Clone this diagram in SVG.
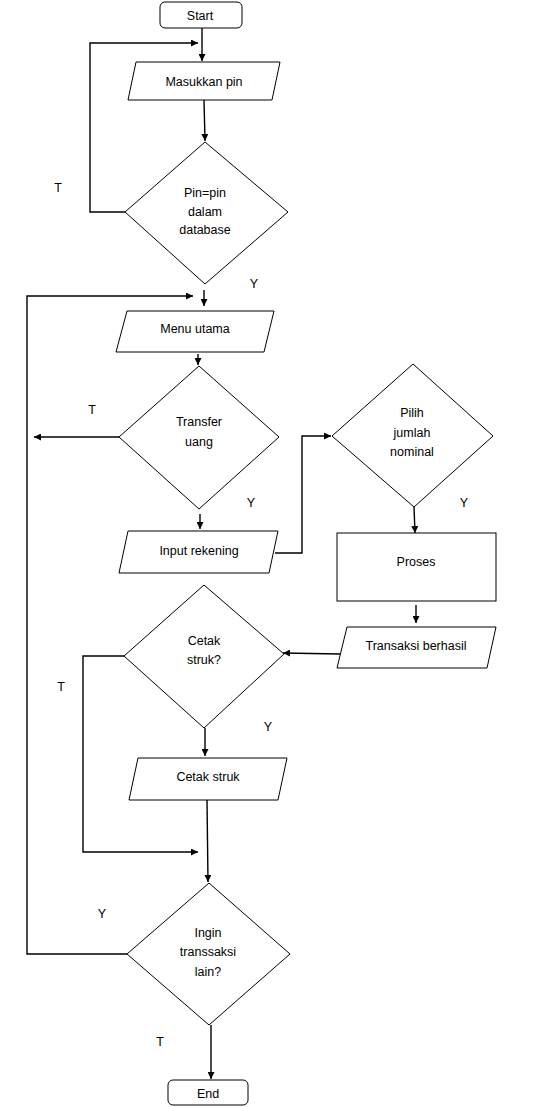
<svg xmlns="http://www.w3.org/2000/svg" width="535" height="1107" viewBox="0 0 535 1107">
<defs>
<marker id="ah" viewBox="0 0 10 10" refX="10" refY="5" markerWidth="7" markerHeight="7" markerUnits="userSpaceOnUse" orient="auto">
<path d="M0,0 L10,5 L0,10 z" fill="#000"/>
</marker>
</defs>
<style>
.shape{fill:#fff;stroke:#000;stroke-width:1}
.line{fill:none;stroke:#000;stroke-width:1.4}
text{font-family:"Liberation Sans",Arial,sans-serif;font-size:12.5px;fill:#000;text-anchor:middle;dominant-baseline:central}
</style>
<rect width="535" height="1107" fill="#fff"/>
<g id="connectors">
<path class="line" d="M202,28 V61" marker-end="url(#ah)"/>
<path class="line" d="M125,212 H90 V43 H198" marker-end="url(#ah)"/>
<path class="line" d="M204,100 L205,141" marker-end="url(#ah)"/>
<path class="line" d="M204,290 V306" marker-end="url(#ah)"/>
<path class="line" d="M127,954 H27 V296 H193" marker-end="url(#ah)"/>
<path class="line" d="M198,354 V365" marker-end="url(#ah)"/>
<path class="line" d="M119,437 H34" marker-end="url(#ah)"/>
<path class="line" d="M200,514 V529" marker-end="url(#ah)"/>
<path class="line" d="M275,553 H302 V436 H331" marker-end="url(#ah)"/>
<path class="line" d="M414,507 L415,533" marker-end="url(#ah)"/>
<path class="line" d="M416,605 V623" marker-end="url(#ah)"/>
<path class="line" d="M340,654 L283,653" marker-end="url(#ah)"/>
<path class="line" d="M124,656 H83 V852 H198" marker-end="url(#ah)"/>
<path class="line" d="M205,728 V756" marker-end="url(#ah)"/>
<path class="line" d="M207,800 L208,882" marker-end="url(#ah)"/>
<path class="line" d="M211,1025 V1079" marker-end="url(#ah)"/>
</g>
<g id="start">
<rect class="shape" x="160" y="2" width="82" height="26" rx="5"/>
<text x="200" y="16">Start</text>
</g>
<g id="masukkan-pin">
<path class="shape" d="M136,62 H280 L272,100 H128 Z"/>
<text x="204" y="82">Masukkan pin</text>
</g>
<g id="pin-check">
<path class="shape" d="M205,142 L288,212 L205,284 L125,212 Z"/>
<text x="205" y="193">Pin=pin</text>
<text x="205" y="212">dalam</text>
<text x="205" y="230">database</text>
</g>
<g id="menu-utama">
<path class="shape" d="M127,311 H274 L264,352 H116 Z"/>
<text x="195" y="329">Menu utama</text>
</g>
<g id="transfer-uang">
<path class="shape" d="M199,366 L279,437 L199,509 L119,437 Z"/>
<text x="199" y="422">Transfer</text>
<text x="199" y="442">uang</text>
</g>
<g id="input-rekening">
<path class="shape" d="M128,531 H278 L269,573 H119 Z"/>
<text x="199" y="551">Input rekening</text>
</g>
<g id="pilih-nominal">
<path class="shape" d="M413,364 L493,436 L414,507 L332,436 Z"/>
<text x="412" y="413">Pilih</text>
<text x="412" y="433">jumlah</text>
<text x="412" y="452">nominal</text>
</g>
<g id="proses">
<rect class="shape" x="337" y="533" width="159" height="68"/>
<text x="416" y="562">Proses</text>
</g>
<g id="transaksi-berhasil">
<path class="shape" d="M347,627 H496 L487,668 H337 Z"/>
<text x="416" y="646">Transaksi berhasil</text>
</g>
<g id="cetak-struk-q">
<path class="shape" d="M204,585 L284,654 L204,728 L124,656 Z"/>
<text x="204" y="641">Cetak</text>
<text x="204" y="660">struk?</text>
</g>
<g id="cetak-struk">
<path class="shape" d="M138,758 H287 L278,800 H129 Z"/>
<text x="208" y="777">Cetak struk</text>
</g>
<g id="transaksi-lain">
<path class="shape" d="M209,883 L290,954 L209,1025 L127,954 Z"/>
<text x="208" y="933">Ingin</text>
<text x="208" y="952">transsaksi</text>
<text x="208" y="972">lain?</text>
</g>
<g id="end">
<rect class="shape" x="168" y="1080" width="80" height="25" rx="5"/>
<text x="208" y="1094">End</text>
</g>
<g id="labels">
<text x="58" y="188">T</text>
<text x="254" y="284">Y</text>
<text x="92" y="410">T</text>
<text x="251" y="503">Y</text>
<text x="464" y="503">Y</text>
<text x="61" y="687">T</text>
<text x="268" y="727">Y</text>
<text x="102" y="914">Y</text>
<text x="160" y="1042">T</text>
</g>
</svg>
